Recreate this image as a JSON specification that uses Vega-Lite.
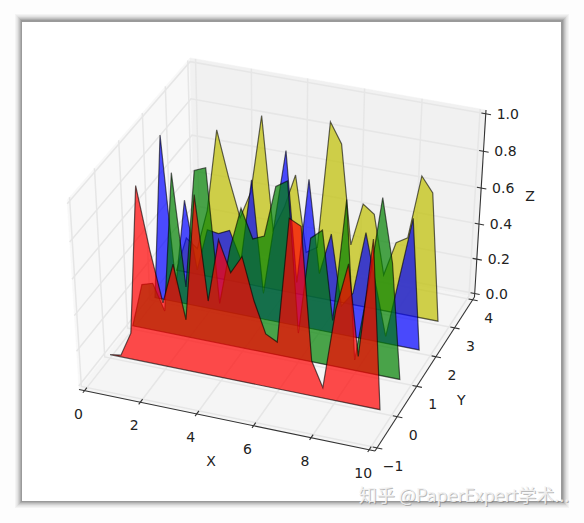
{
"$schema":"https://vega.github.io/schema/vega-lite/v6.json",
"width":584,"height":523,"autosize":{"type":"fit","contains":"padding"},"padding":0,"background":"#fdfdfd",
"view":{"stroke":null},
"data":{"values":[
{"g":"shadow","l":15,"r":569,"t":14,"b":508},{"g":"shadow","l":16,"r":568,"t":15,"b":507},{"g":"shadow","l":17,"r":567,"t":16,"b":506},
{"g":"shadow","l":18,"r":566,"t":17,"b":505},{"g":"shadow","l":18,"r":566,"t":17,"b":505},
{"g":"shadow","l":19,"r":565,"t":18,"b":504},{"g":"shadow","l":19,"r":565,"t":18,"b":504},
{"g":"shadow","l":20,"r":564,"t":19,"b":503},{"g":"shadow","l":20,"r":564,"t":19,"b":503},{"g":"shadow","l":20,"r":564,"t":19,"b":503},
{"g":"shadow","l":21,"r":563,"t":20,"b":502},{"g":"shadow","l":21,"r":563,"t":20,"b":502},{"g":"shadow","l":21,"r":563,"t":20,"b":502},
{"g":"panel","l":22,"r":561,"t":22,"b":501},
{"g":"paneL","i":0,"x":-0.2,"y":-1.1,"z":-0.02},{"g":"paneL","i":1,"x":-0.2,"y":4.1,"z":-0.02},{"g":"paneL","i":2,"x":-0.2,"y":4.1,"z":1.02},{"g":"paneL","i":3,"x":-0.2,"y":-1.1,"z":1.02},
{"g":"paneB","i":0,"x":-0.2,"y":4.1,"z":-0.02},{"g":"paneB","i":1,"x":10.2,"y":4.1,"z":-0.02},{"g":"paneB","i":2,"x":10.2,"y":4.1,"z":1.02},{"g":"paneB","i":3,"x":-0.2,"y":4.1,"z":1.02},
{"g":"paneF","i":0,"x":-0.2,"y":-1.1,"z":-0.02},{"g":"paneF","i":1,"x":10.2,"y":-1.1,"z":-0.02},{"g":"paneF","i":2,"x":10.2,"y":4.1,"z":-0.02},{"g":"paneF","i":3,"x":-0.2,"y":4.1,"z":-0.02},
{"g":"grid","id":"x0","i":0,"x":0,"y":-1.1,"z":-0.02},{"g":"grid","id":"x0","i":1,"x":0,"y":4.1,"z":-0.02},{"g":"grid","id":"x0","i":2,"x":0,"y":4.1,"z":1.02},
{"g":"grid","id":"x2","i":0,"x":2,"y":-1.1,"z":-0.02},{"g":"grid","id":"x2","i":1,"x":2,"y":4.1,"z":-0.02},{"g":"grid","id":"x2","i":2,"x":2,"y":4.1,"z":1.02},
{"g":"grid","id":"x4","i":0,"x":4,"y":-1.1,"z":-0.02},{"g":"grid","id":"x4","i":1,"x":4,"y":4.1,"z":-0.02},{"g":"grid","id":"x4","i":2,"x":4,"y":4.1,"z":1.02},
{"g":"grid","id":"x6","i":0,"x":6,"y":-1.1,"z":-0.02},{"g":"grid","id":"x6","i":1,"x":6,"y":4.1,"z":-0.02},{"g":"grid","id":"x6","i":2,"x":6,"y":4.1,"z":1.02},
{"g":"grid","id":"x8","i":0,"x":8,"y":-1.1,"z":-0.02},{"g":"grid","id":"x8","i":1,"x":8,"y":4.1,"z":-0.02},{"g":"grid","id":"x8","i":2,"x":8,"y":4.1,"z":1.02},
{"g":"grid","id":"x10","i":0,"x":10,"y":-1.1,"z":-0.02},{"g":"grid","id":"x10","i":1,"x":10,"y":4.1,"z":-0.02},{"g":"grid","id":"x10","i":2,"x":10,"y":4.1,"z":1.02},
{"g":"grid","id":"y-1","i":0,"x":10.2,"y":-1,"z":-0.02},{"g":"grid","id":"y-1","i":1,"x":-0.2,"y":-1,"z":-0.02},{"g":"grid","id":"y-1","i":2,"x":-0.2,"y":-1,"z":1.02},
{"g":"grid","id":"y0","i":0,"x":10.2,"y":0,"z":-0.02},{"g":"grid","id":"y0","i":1,"x":-0.2,"y":0,"z":-0.02},{"g":"grid","id":"y0","i":2,"x":-0.2,"y":0,"z":1.02},
{"g":"grid","id":"y1","i":0,"x":10.2,"y":1,"z":-0.02},{"g":"grid","id":"y1","i":1,"x":-0.2,"y":1,"z":-0.02},{"g":"grid","id":"y1","i":2,"x":-0.2,"y":1,"z":1.02},
{"g":"grid","id":"y2","i":0,"x":10.2,"y":2,"z":-0.02},{"g":"grid","id":"y2","i":1,"x":-0.2,"y":2,"z":-0.02},{"g":"grid","id":"y2","i":2,"x":-0.2,"y":2,"z":1.02},
{"g":"grid","id":"y3","i":0,"x":10.2,"y":3,"z":-0.02},{"g":"grid","id":"y3","i":1,"x":-0.2,"y":3,"z":-0.02},{"g":"grid","id":"y3","i":2,"x":-0.2,"y":3,"z":1.02},
{"g":"grid","id":"y4","i":0,"x":10.2,"y":4,"z":-0.02},{"g":"grid","id":"y4","i":1,"x":-0.2,"y":4,"z":-0.02},{"g":"grid","id":"y4","i":2,"x":-0.2,"y":4,"z":1.02},
{"g":"grid","id":"z0","i":0,"x":-0.2,"y":-1.1,"z":0},{"g":"grid","id":"z0","i":1,"x":-0.2,"y":4.1,"z":0},{"g":"grid","id":"z0","i":2,"x":10.2,"y":4.1,"z":0},
{"g":"grid","id":"z2","i":0,"x":-0.2,"y":-1.1,"z":0.2},{"g":"grid","id":"z2","i":1,"x":-0.2,"y":4.1,"z":0.2},{"g":"grid","id":"z2","i":2,"x":10.2,"y":4.1,"z":0.2},
{"g":"grid","id":"z4","i":0,"x":-0.2,"y":-1.1,"z":0.4},{"g":"grid","id":"z4","i":1,"x":-0.2,"y":4.1,"z":0.4},{"g":"grid","id":"z4","i":2,"x":10.2,"y":4.1,"z":0.4},
{"g":"grid","id":"z6","i":0,"x":-0.2,"y":-1.1,"z":0.6},{"g":"grid","id":"z6","i":1,"x":-0.2,"y":4.1,"z":0.6},{"g":"grid","id":"z6","i":2,"x":10.2,"y":4.1,"z":0.6},
{"g":"grid","id":"z8","i":0,"x":-0.2,"y":-1.1,"z":0.8},{"g":"grid","id":"z8","i":1,"x":-0.2,"y":4.1,"z":0.8},{"g":"grid","id":"z8","i":2,"x":10.2,"y":4.1,"z":0.8},
{"g":"grid","id":"z10","i":0,"x":-0.2,"y":-1.1,"z":1},{"g":"grid","id":"z10","i":1,"x":-0.2,"y":4.1,"z":1},{"g":"grid","id":"z10","i":2,"x":10.2,"y":4.1,"z":1},
{"g":"axis","id":"x","i":0,"x":-0.2,"y":-1.1,"z":-0.02},{"g":"axis","id":"x","i":1,"x":10.2,"y":-1.1,"z":-0.02},
{"g":"axis","id":"y","i":0,"x":10.2,"y":-1.1,"z":-0.02},{"g":"axis","id":"y","i":1,"x":10.2,"y":4.1,"z":-0.02},
{"g":"axis","id":"z","i":0,"x":10.2,"y":4.1,"z":-0.02},{"g":"axis","id":"z","i":1,"x":10.2,"y":4.1,"z":1.02},
{"g":"axis","id":"tx0","i":0,"x":0,"y":-1.17,"z":-0.02},{"g":"axis","id":"tx0","i":1,"x":0,"y":-1.0,"z":-0.02},
{"g":"axis","id":"tx2","i":0,"x":2,"y":-1.17,"z":-0.02},{"g":"axis","id":"tx2","i":1,"x":2,"y":-1.0,"z":-0.02},
{"g":"axis","id":"tx4","i":0,"x":4,"y":-1.17,"z":-0.02},{"g":"axis","id":"tx4","i":1,"x":4,"y":-1.0,"z":-0.02},
{"g":"axis","id":"tx6","i":0,"x":6,"y":-1.17,"z":-0.02},{"g":"axis","id":"tx6","i":1,"x":6,"y":-1.0,"z":-0.02},
{"g":"axis","id":"tx8","i":0,"x":8,"y":-1.17,"z":-0.02},{"g":"axis","id":"tx8","i":1,"x":8,"y":-1.0,"z":-0.02},
{"g":"axis","id":"tx10","i":0,"x":10,"y":-1.17,"z":-0.02},{"g":"axis","id":"tx10","i":1,"x":10,"y":-1.0,"z":-0.02},
{"g":"axis","id":"ty-1","i":0,"x":10.05,"y":-1,"z":-0.02},{"g":"axis","id":"ty-1","i":1,"x":10.38,"y":-1,"z":-0.02},
{"g":"axis","id":"ty0","i":0,"x":10.05,"y":0,"z":-0.02},{"g":"axis","id":"ty0","i":1,"x":10.38,"y":0,"z":-0.02},
{"g":"axis","id":"ty1","i":0,"x":10.05,"y":1,"z":-0.02},{"g":"axis","id":"ty1","i":1,"x":10.38,"y":1,"z":-0.02},
{"g":"axis","id":"ty2","i":0,"x":10.05,"y":2,"z":-0.02},{"g":"axis","id":"ty2","i":1,"x":10.38,"y":2,"z":-0.02},
{"g":"axis","id":"ty3","i":0,"x":10.05,"y":3,"z":-0.02},{"g":"axis","id":"ty3","i":1,"x":10.38,"y":3,"z":-0.02},
{"g":"axis","id":"ty4","i":0,"x":10.05,"y":4,"z":-0.02},{"g":"axis","id":"ty4","i":1,"x":10.38,"y":4,"z":-0.02},
{"g":"axis","id":"tz0","i":0,"x":10.05,"y":4.1,"z":0},{"g":"axis","id":"tz0","i":1,"x":10.38,"y":4.1,"z":0},
{"g":"axis","id":"tz2","i":0,"x":10.05,"y":4.1,"z":0.2},{"g":"axis","id":"tz2","i":1,"x":10.38,"y":4.1,"z":0.2},
{"g":"axis","id":"tz4","i":0,"x":10.05,"y":4.1,"z":0.4},{"g":"axis","id":"tz4","i":1,"x":10.38,"y":4.1,"z":0.4},
{"g":"axis","id":"tz6","i":0,"x":10.05,"y":4.1,"z":0.6},{"g":"axis","id":"tz6","i":1,"x":10.38,"y":4.1,"z":0.6},
{"g":"axis","id":"tz8","i":0,"x":10.05,"y":4.1,"z":0.8},{"g":"axis","id":"tz8","i":1,"x":10.38,"y":4.1,"z":0.8},
{"g":"axis","id":"tz10","i":0,"x":10.05,"y":4.1,"z":1},{"g":"axis","id":"tz10","i":1,"x":10.38,"y":4.1,"z":1},
{"g":"lx","t":"0","x":0,"y":-1.1,"z":-0.02},{"g":"lx","t":"2","x":2,"y":-1.1,"z":-0.02},{"g":"lx","t":"4","x":4,"y":-1.1,"z":-0.02},{"g":"lx","t":"6","x":6,"y":-1.1,"z":-0.02},{"g":"lx","t":"8","x":8,"y":-1.1,"z":-0.02},{"g":"lx","t":"10","x":10,"y":-1.1,"z":-0.02},
{"g":"ly","t":"−1","x":10.2,"y":-1,"z":-0.02},{"g":"ly","t":"0","x":10.2,"y":0,"z":-0.02},{"g":"ly","t":"1","x":10.2,"y":1,"z":-0.02},{"g":"ly","t":"2","x":10.2,"y":2,"z":-0.02},{"g":"ly","t":"3","x":10.2,"y":3,"z":-0.02},{"g":"ly","t":"4","x":10.2,"y":4,"z":-0.02},
{"g":"lz","t":"0.0","x":10.2,"y":4.1,"z":0},{"g":"lz","t":"0.2","x":10.2,"y":4.1,"z":0.2},{"g":"lz","t":"0.4","x":10.2,"y":4.1,"z":0.4},{"g":"lz","t":"0.6","x":10.2,"y":4.1,"z":0.6},{"g":"lz","t":"0.8","x":10.2,"y":4.1,"z":0.8},{"g":"lz","t":"1.0","x":10.2,"y":4.1,"z":1},
{"g":"tx","t":"X","x":5,"y":-1.1,"z":-0.02},{"g":"ty","t":"Y","x":10.2,"y":1.5,"z":-0.02},{"g":"tz","t":"Z","x":10.2,"y":4.1,"z":0.5},
{"g":"mark","t":"知乎 @PaperExpert学术...","l":464,"t2":497},
{"g":"yellow","i":0,"x":0,"y":3,"z":0},{"g":"yellow","i":1,"x":0.4,"y":3,"z":0.2},{"g":"yellow","i":2,"x":0.8,"y":3,"z":0.15},{"g":"yellow","i":3,"x":1.2,"y":3,"z":0.38},{"g":"yellow","i":4,"x":1.6,"y":3,"z":0.837},{"g":"yellow","i":5,"x":2.0,"y":3,"z":0.59},{"g":"yellow","i":6,"x":2.4,"y":3,"z":0.375},{"g":"yellow","i":7,"x":2.8,"y":3,"z":0.53},{"g":"yellow","i":8,"x":3.2,"y":3,"z":0.957},{"g":"yellow","i":9,"x":3.6,"y":3,"z":0.34},{"g":"yellow","i":10,"x":4.0,"y":3,"z":0.48},{"g":"yellow","i":11,"x":4.4,"y":3,"z":0.67},{"g":"yellow","i":12,"x":4.8,"y":3,"z":0.25},{"g":"yellow","i":13,"x":5.2,"y":3,"z":0.29},{"g":"yellow","i":14,"x":5.6,"y":3,"z":0.989},{"g":"yellow","i":15,"x":6.0,"y":3,"z":0.883},{"g":"yellow","i":16,"x":6.4,"y":3,"z":0.34},{"g":"yellow","i":17,"x":6.8,"y":3,"z":0.58},{"g":"yellow","i":18,"x":7.2,"y":3,"z":0.535},{"g":"yellow","i":19,"x":7.6,"y":3,"z":0.206},{"g":"yellow","i":20,"x":8.0,"y":3,"z":0.40},{"g":"yellow","i":21,"x":8.4,"y":3,"z":0.44},{"g":"yellow","i":22,"x":8.8,"y":3,"z":0.79},{"g":"yellow","i":23,"x":9.2,"y":3,"z":0.71},{"g":"yellow","i":24,"x":9.6,"y":3,"z":0},
{"g":"blue","i":0,"x":0,"y":2,"z":0},{"g":"blue","i":1,"x":0.4,"y":2,"z":0.92},{"g":"blue","i":2,"x":0.8,"y":2,"z":0.10},{"g":"blue","i":3,"x":1.2,"y":2,"z":0.59},{"g":"blue","i":4,"x":1.6,"y":2,"z":0.21},{"g":"blue","i":5,"x":2.0,"y":2,"z":0.45},{"g":"blue","i":6,"x":2.4,"y":2,"z":0.44},{"g":"blue","i":7,"x":2.8,"y":2,"z":0.47},{"g":"blue","i":8,"x":3.2,"y":2,"z":0.315},{"g":"blue","i":9,"x":3.6,"y":2,"z":0.77},{"g":"blue","i":10,"x":4.0,"y":2,"z":0.15},{"g":"blue","i":11,"x":4.4,"y":2,"z":0.556},{"g":"blue","i":12,"x":4.8,"y":2,"z":0.96},{"g":"blue","i":13,"x":5.2,"y":2,"z":0.25},{"g":"blue","i":14,"x":5.6,"y":2,"z":0.83},{"g":"blue","i":15,"x":6.0,"y":2,"z":0.325},{"g":"blue","i":16,"x":6.4,"y":2,"z":0.557},{"g":"blue","i":17,"x":6.8,"y":2,"z":0.165},{"g":"blue","i":18,"x":7.2,"y":2,"z":0.25},{"g":"blue","i":19,"x":7.6,"y":2,"z":0.60},{"g":"blue","i":20,"x":8.0,"y":2,"z":0.32},{"g":"blue","i":21,"x":8.4,"y":2,"z":0.04},{"g":"blue","i":22,"x":8.8,"y":2,"z":0.38},{"g":"blue","i":23,"x":9.2,"y":2,"z":0.725},{"g":"blue","i":24,"x":9.6,"y":2,"z":0},
{"g":"green","i":0,"x":0,"y":1,"z":0},{"g":"green","i":1,"x":0.4,"y":1,"z":0.25},{"g":"green","i":2,"x":0.8,"y":1,"z":0.27},{"g":"green","i":3,"x":1.2,"y":1,"z":0.124},{"g":"green","i":4,"x":1.6,"y":1,"z":0.90},{"g":"green","i":5,"x":2.0,"y":1,"z":0.287},{"g":"green","i":6,"x":2.4,"y":1,"z":0.934},{"g":"green","i":7,"x":2.8,"y":1,"z":0.96},{"g":"green","i":8,"x":3.2,"y":1,"z":0.23},{"g":"green","i":9,"x":3.6,"y":1,"z":0.55},{"g":"green","i":10,"x":4.0,"y":1,"z":0.78},{"g":"green","i":11,"x":4.4,"y":1,"z":0.626},{"g":"green","i":12,"x":4.8,"y":1,"z":0.654},{"g":"green","i":13,"x":5.2,"y":1,"z":0.93},{"g":"green","i":14,"x":5.6,"y":1,"z":0.97},{"g":"green","i":15,"x":6.0,"y":1,"z":0.15},{"g":"green","i":16,"x":6.4,"y":1,"z":0.69},{"g":"green","i":17,"x":6.8,"y":1,"z":0.745},{"g":"green","i":18,"x":7.2,"y":1,"z":0.26},{"g":"green","i":19,"x":7.6,"y":1,"z":0.93},{"g":"green","i":20,"x":8.0,"y":1,"z":0.06},{"g":"green","i":21,"x":8.4,"y":1,"z":0.485},{"g":"green","i":22,"x":8.8,"y":1,"z":0.975},{"g":"green","i":23,"x":9.2,"y":1,"z":0.64},{"g":"green","i":24,"x":9.6,"y":1,"z":0},
{"g":"red","i":0,"x":0,"y":0,"z":0},{"g":"red","i":1,"x":0.4,"y":0,"z":0.01},{"g":"red","i":2,"x":0.8,"y":0,"z":0.15},{"g":"red","i":3,"x":1.2,"y":0,"z":0.97},{"g":"red","i":4,"x":1.6,"y":0,"z":0.64},{"g":"red","i":5,"x":2.0,"y":0,"z":0.36},{"g":"red","i":6,"x":2.4,"y":0,"z":0.586},{"g":"red","i":7,"x":2.8,"y":0,"z":0.29},{"g":"red","i":8,"x":3.2,"y":0,"z":0.98},{"g":"red","i":9,"x":3.6,"y":0,"z":0.42},{"g":"red","i":10,"x":4.0,"y":0,"z":0.766},{"g":"red","i":11,"x":4.4,"y":0,"z":0.60},{"g":"red","i":12,"x":4.8,"y":0,"z":0.70},{"g":"red","i":13,"x":5.2,"y":0,"z":0.47},{"g":"red","i":14,"x":5.6,"y":0,"z":0.30},{"g":"red","i":15,"x":6.0,"y":0,"z":0.267},{"g":"red","i":16,"x":6.4,"y":0,"z":0.95},{"g":"red","i":17,"x":6.8,"y":0,"z":0.92},{"g":"red","i":18,"x":7.2,"y":0,"z":0.20},{"g":"red","i":19,"x":7.6,"y":0,"z":0.06},{"g":"red","i":20,"x":8.0,"y":0,"z":0.51},{"g":"red","i":21,"x":8.4,"y":0,"z":0.77},{"g":"red","i":22,"x":8.8,"y":0,"z":0.277},{"g":"red","i":23,"x":9.2,"y":0,"z":0.925},{"g":"red","i":24,"x":9.6,"y":0,"z":0}
]},
"transform":[
{"calculate":"(datum.x+0.2)/10.4","as":"u"},
{"calculate":"(datum.y+1.1)/5.2","as":"v"},
{"calculate":"(datum.z+0.02)/1.04","as":"w"},
{"calculate":"1-0.02607*datum.u+0.06697*datum.v-0.05721*datum.w","as":"d"},
{"calculate":"(286.22*datum.u+128.68*datum.v-15.83*datum.w+79)/datum.d","as":"sx"},
{"calculate":"(49.74*datum.u-130.10*datum.v-200.94*datum.w+389.5)/datum.d","as":"sy"}
],
"encoding":{
"x":{"field":"sx","type":"quantitative","scale":{"domain":[0,584],"nice":false,"zero":false},"axis":null},
"y":{"field":"sy","type":"quantitative","scale":{"domain":[523,0],"nice":false,"zero":false},"axis":null}
},
"layer":[
{"transform":[{"filter":"datum.g=='shadow'"}],"mark":{"type":"rect","fill":"#000","fillOpacity":0.035},"encoding":{"x":{"field":"l","type":"quantitative","scale":{"domain":[0,584],"nice":false,"zero":false},"axis":null},"x2":{"field":"r"},"y":{"field":"t","type":"quantitative","scale":{"domain":[523,0],"nice":false,"zero":false},"axis":null},"y2":{"field":"b"}}},
{"transform":[{"filter":"datum.g=='panel'"}],"mark":{"type":"rect","fill":"#fff"},"encoding":{"x":{"field":"l","type":"quantitative","scale":{"domain":[0,584],"nice":false,"zero":false},"axis":null},"x2":{"field":"r"},"y":{"field":"t","type":"quantitative","scale":{"domain":[523,0],"nice":false,"zero":false},"axis":null},"y2":{"field":"b"}}},
{"transform":[{"filter":"datum.g=='paneL'"}],"mark":{"type":"line","interpolate":"linear-closed","fill":"#f8f8f8","stroke":"#f8f8f8","strokeWidth":0.5},"encoding":{"order":{"field":"i","type":"quantitative"}}},
{"transform":[{"filter":"datum.g=='paneB'"}],"mark":{"type":"line","interpolate":"linear-closed","fill":"#f1f1f1","stroke":"#f1f1f1","strokeWidth":0.5},"encoding":{"order":{"field":"i","type":"quantitative"}}},
{"transform":[{"filter":"datum.g=='paneF'"}],"mark":{"type":"line","interpolate":"linear-closed","fill":"#f5f5f5","stroke":"#f5f5f5","strokeWidth":0.5},"encoding":{"order":{"field":"i","type":"quantitative"}}},
{"transform":[{"filter":"datum.g=='grid'"}],"mark":{"type":"line","stroke":"#e6e6e6","strokeWidth":1.5},"encoding":{"detail":{"field":"id"},"order":{"field":"i","type":"quantitative"}}},
{"transform":[{"filter":"datum.g=='yellow'"}],"mark":{"type":"line","interpolate":"linear-closed","fill":"#bfbf00","fillOpacity":0.7,"stroke":"#000","strokeOpacity":0.6,"strokeWidth":1.2},"encoding":{"order":{"field":"i","type":"quantitative"}}},
{"transform":[{"filter":"datum.g=='blue'"}],"mark":{"type":"line","interpolate":"linear-closed","fill":"#0000ff","fillOpacity":0.7,"stroke":"#000","strokeOpacity":0.6,"strokeWidth":1.2},"encoding":{"order":{"field":"i","type":"quantitative"}}},
{"transform":[{"filter":"datum.g=='green'"}],"mark":{"type":"line","interpolate":"linear-closed","fill":"#008000","fillOpacity":0.7,"stroke":"#000","strokeOpacity":0.6,"strokeWidth":1.2},"encoding":{"order":{"field":"i","type":"quantitative"}}},
{"transform":[{"filter":"datum.g=='red'"}],"mark":{"type":"line","interpolate":"linear-closed","fill":"#ff0000","fillOpacity":0.7,"stroke":"#000","strokeOpacity":0.6,"strokeWidth":1.2},"encoding":{"order":{"field":"i","type":"quantitative"}}},
{"transform":[{"filter":"datum.g=='axis'"}],"mark":{"type":"line","stroke":"#333","strokeWidth":1.1},"encoding":{"detail":{"field":"id"},"order":{"field":"i","type":"quantitative"}}},
{"transform":[{"filter":"datum.g=='lx'"}],"mark":{"type":"text","font":"DejaVu Sans","fontSize":14,"fill":"#222","dx":-6,"dy":24},"encoding":{"text":{"field":"t"}}},
{"transform":[{"filter":"datum.g=='ly'"}],"mark":{"type":"text","font":"DejaVu Sans","fontSize":14,"fill":"#222","dx":16,"dy":19},"encoding":{"text":{"field":"t"}}},
{"transform":[{"filter":"datum.g=='lz'"}],"mark":{"type":"text","font":"DejaVu Sans","fontSize":14,"fill":"#222","dx":22,"dy":1},"encoding":{"text":{"field":"t"}}},
{"transform":[{"filter":"datum.g=='tx'"}],"mark":{"type":"text","font":"DejaVu Sans","fontSize":14,"fill":"#222","dx":-14,"dy":42},"encoding":{"text":{"field":"t"}}},
{"transform":[{"filter":"datum.g=='ty'"}],"mark":{"type":"text","font":"DejaVu Sans","fontSize":14,"fill":"#222","dx":35,"dy":30},"encoding":{"text":{"field":"t"}}},
{"transform":[{"filter":"datum.g=='tz'"}],"mark":{"type":"text","font":"DejaVu Sans","fontSize":14,"fill":"#222","dx":50,"dy":-9},"encoding":{"text":{"field":"t"}}},
{"transform":[{"filter":"datum.g=='mark'"}],"mark":{"type":"text","font":"Noto Sans CJK SC","fontSize":18,"fill":"#777","fillOpacity":0.5,"dx":1,"dy":1},"encoding":{"x":{"field":"l","type":"quantitative","scale":{"domain":[0,584],"nice":false,"zero":false},"axis":null},"y":{"field":"t2","type":"quantitative","scale":{"domain":[523,0],"nice":false,"zero":false},"axis":null},"text":{"field":"t"}}},
{"transform":[{"filter":"datum.g=='mark'"}],"mark":{"type":"text","font":"Noto Sans CJK SC","fontSize":18,"fill":"#f2f2f2","fillOpacity":0.9},"encoding":{"x":{"field":"l","type":"quantitative","scale":{"domain":[0,584],"nice":false,"zero":false},"axis":null},"y":{"field":"t2","type":"quantitative","scale":{"domain":[523,0],"nice":false,"zero":false},"axis":null},"text":{"field":"t"}}}
]
}
